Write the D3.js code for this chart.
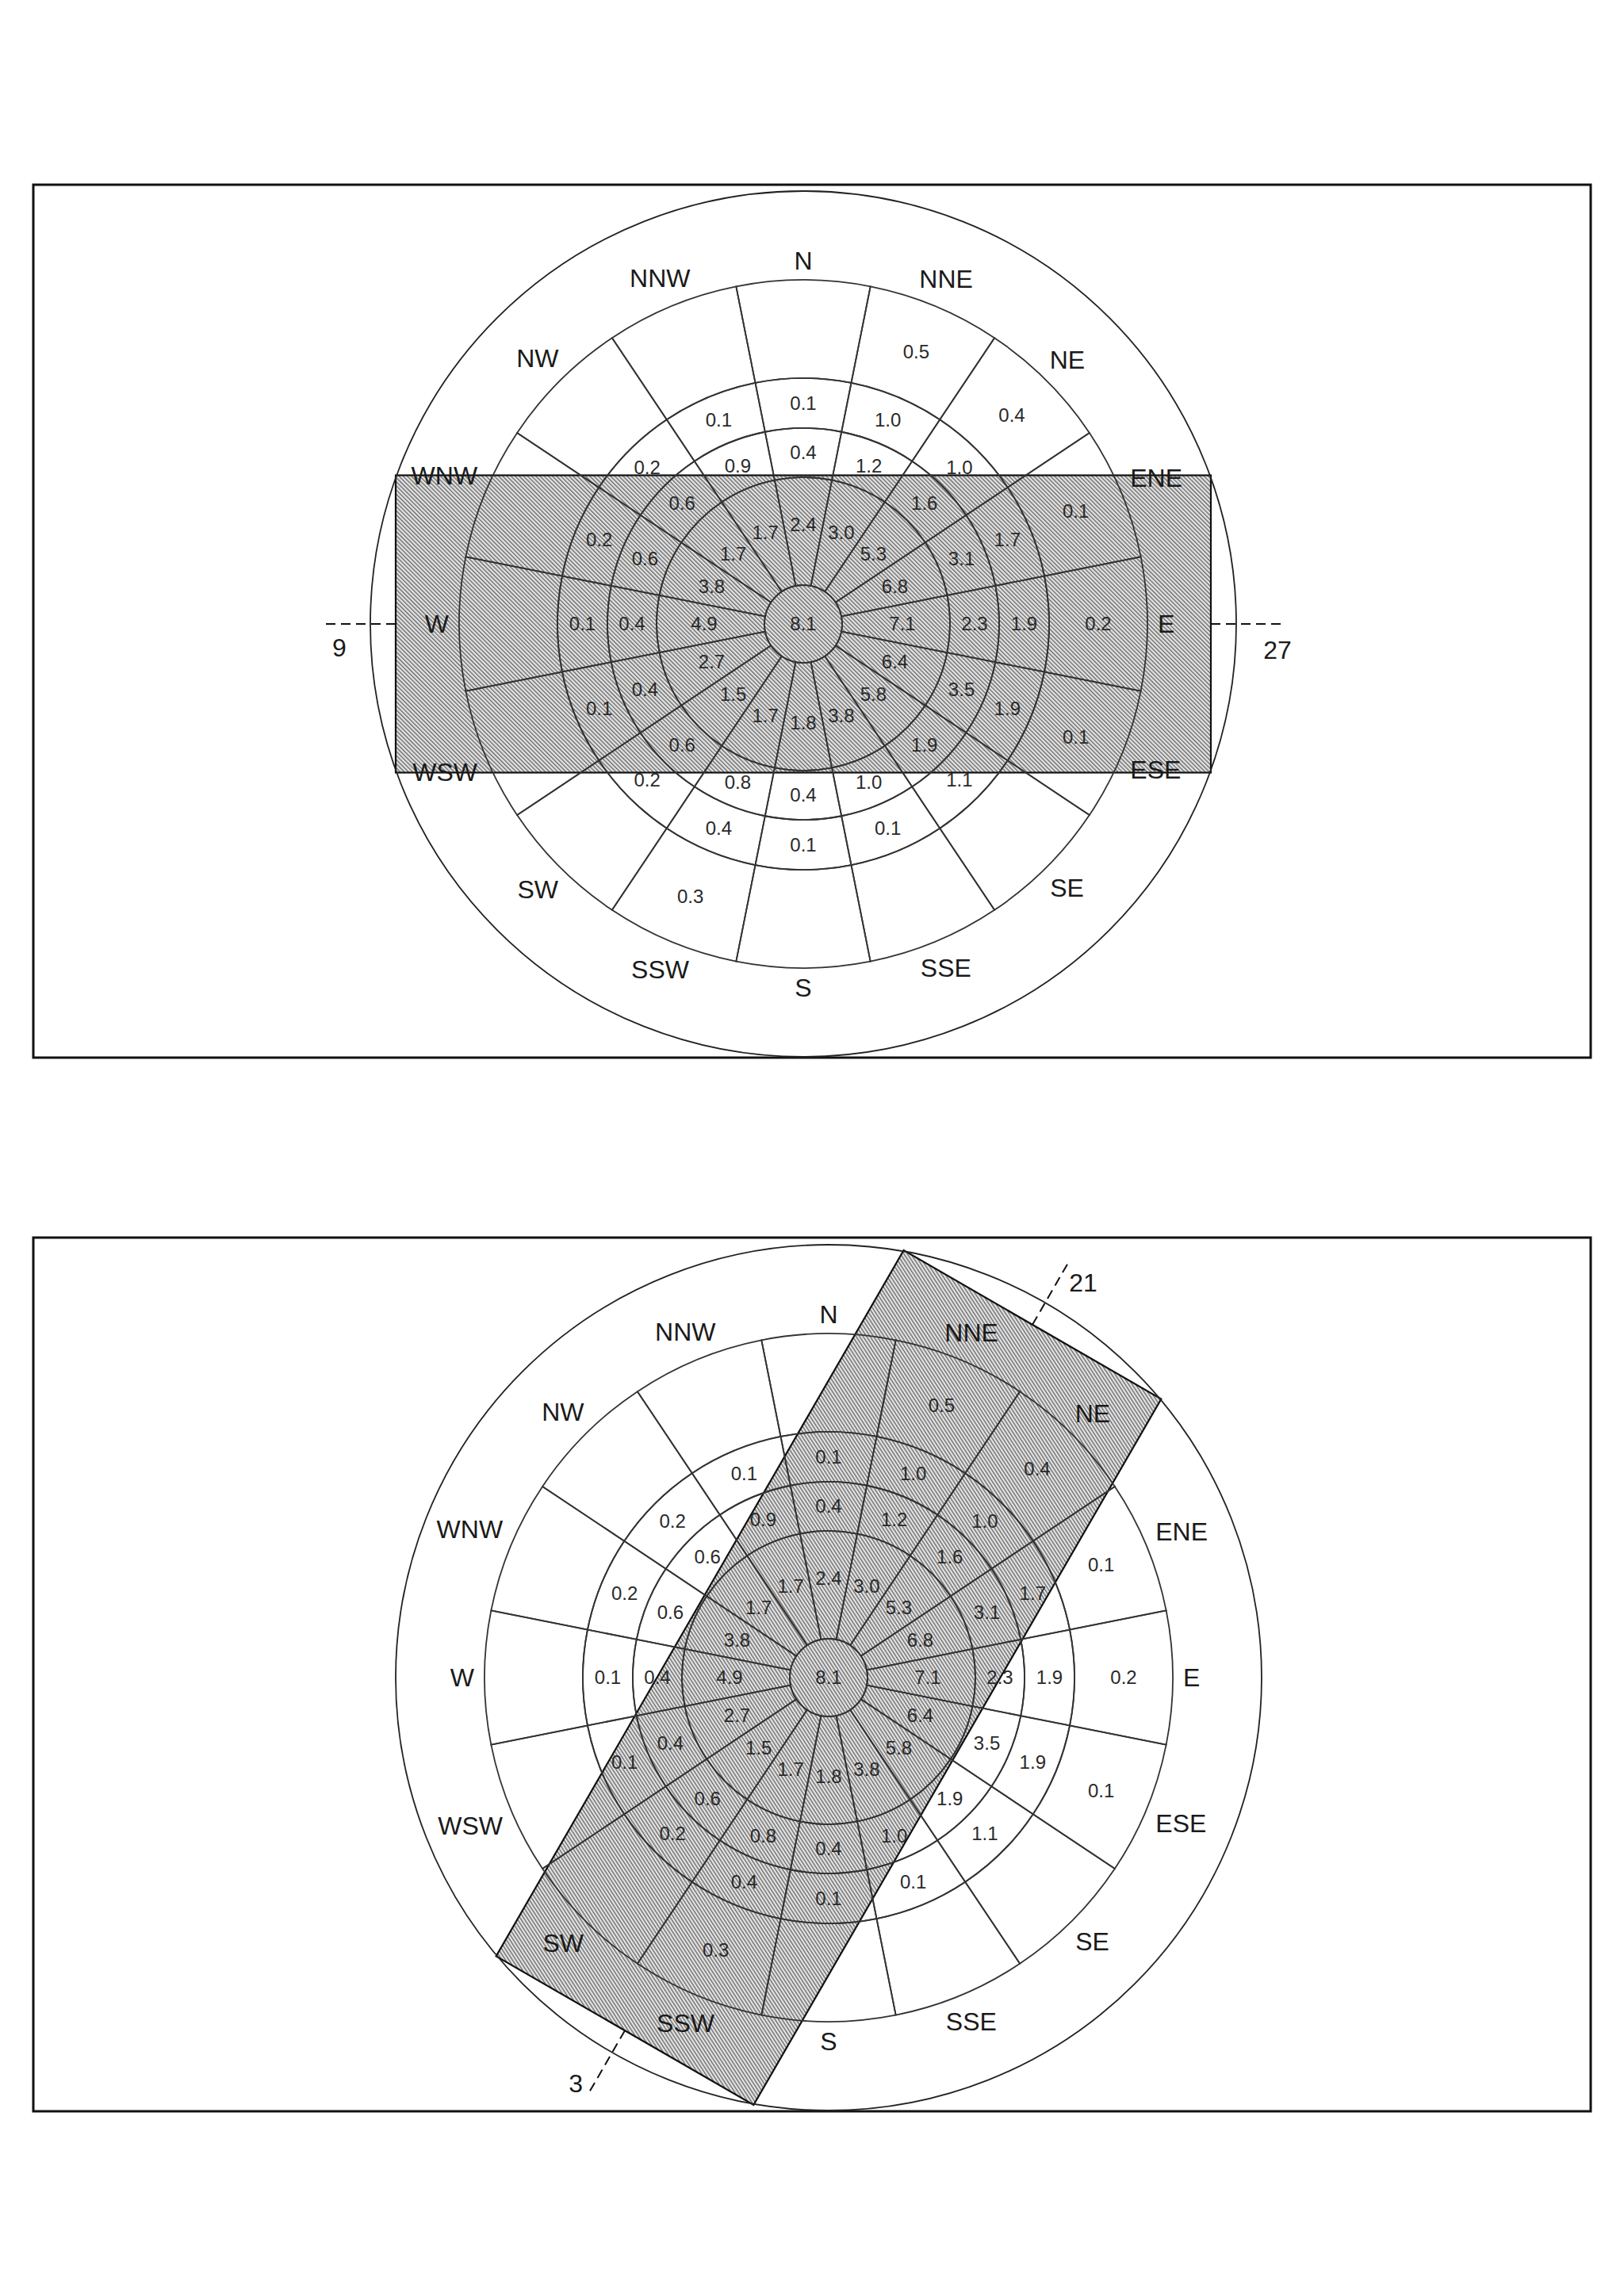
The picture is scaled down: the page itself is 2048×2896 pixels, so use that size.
<!DOCTYPE html>
<html>
<head>
<meta charset="utf-8">
<script src="https://cdn.jsdelivr.net/npm/d3@7"></script>
<style>
  body { margin: 0; background: #fff; }
  svg { display: block; }
  text { font-family: "Liberation Sans", Arial, sans-serif; }
</style>
</head>
<body>
<div id="plot"></div>
<script>
// wind rose data (percent of time, by direction and speed band)
var directions = ["N","NNE","NE","ENE","E","ESE","SE","SSE","S","SSW","SW","WSW","W","WNW","NW","NNW"];
var calm = 8.1;
var ring1 = [2.4, 3.0, 5.3, 6.8, 7.1, 6.4, 5.8, 3.8, 1.8, 1.7, 1.5, 2.7, 4.9, 3.8, 1.7, 1.7];
var ring2 = [0.4, 1.2, 1.6, 3.1, 2.3, 3.5, 1.9, 1.0, 0.4, 0.8, 0.6, 0.4, 0.4, 0.6, 0.6, 0.9];
var ring3 = [0.1, 1.0, 1.0, 1.7, 1.9, 1.9, 1.1, 0.1, 0.1, 0.4, 0.2, 0.1, 0.1, 0.2, 0.2, 0.1];
var ring4 = [null, 0.5, 0.4, 0.1, 0.2, 0.1, null, null, null, 0.3, null, null, null, null, null, null];
var rings = [ring1, ring2, ring3, ring4];

// runways overlaid on each rose
var runwayHeadings = [90, 30];
var runwayEnds = [["9", "27"], ["3", "21"]];

var W = 2048, H = 2896;
var panels = [
  { frame: [42, 233, 1964, 1101], cx: 1013, cy: 787, hatch: 45 },
  { frame: [42, 1561, 1964, 1102], cx: 1045, cy: 2116, hatch: 57 }
];
// label offsets (along axis inward, perpendicular) for each runway end
var endOffsets = [[[21, 30], [8, 33]], [[3, -20], [14, 29]]];

var halfL = 514, halfW = 187.5, dashExt = 92;

var angle = d3.scaleLinear().domain([0, directions.length]).range([0, 2 * Math.PI]);
var radius = d3.scaleLinear().domain([0, 1, 2, 3, 4]).range([49, 185, 247, 310, 434]);
var outerR = 546;
var labelR = 447;

var arc = d3.arc();

var svg = d3.select("#plot").append("svg")
  .attr("width", W).attr("height", H);
svg.append("rect").attr("width", W).attr("height", H).attr("fill", "#fff");

var defs = svg.append("defs");

function polar(r, a) { return [r * Math.sin(a), -r * Math.cos(a)]; }

panels.forEach(function(p, pi) {
  var heading = runwayHeadings[pi];
  var rot = heading - 90;

  // hatch pattern, lines at p.hatch degrees on screen
  var pat = defs.append("pattern")
    .attr("id", "hatch" + pi)
    .attr("patternUnits", "userSpaceOnUse")
    .attr("width", 3.7).attr("height", 10)
    .attr("patternTransform", "rotate(" + (p.hatch - rot - 90) + ")");
  pat.append("rect").attr("width", 3.7).attr("height", 10).attr("fill", "#e3e3e3");
  pat.append("rect").attr("width", 1.3).attr("height", 10).attr("fill", "#646464");

  var g = svg.append("g");

  // frame
  g.append("rect")
    .attr("x", p.frame[0]).attr("y", p.frame[1])
    .attr("width", p.frame[2]).attr("height", p.frame[3])
    .attr("fill", "none").attr("stroke", "#111").attr("stroke-width", 3);

  var rose = g.append("g").attr("transform", "translate(" + p.cx + "," + p.cy + ")");

  // runway hatch
  var rw = rose.append("g").attr("transform", "rotate(" + rot + ")");
  rw.append("rect")
    .attr("x", -halfL).attr("y", -halfW)
    .attr("width", 2 * halfL).attr("height", 2 * halfW)
    .attr("fill", "url(#hatch" + pi + ")");

  // outer circle
  rose.append("circle").attr("r", outerR)
    .attr("fill", "none").attr("stroke", "#222").attr("stroke-width", 1.8);

  // cells
  directions.forEach(function(d, i) {
    rings.forEach(function(ring, k) {
      rose.append("path")
        .attr("d", arc({
          innerRadius: radius(k), outerRadius: radius(k + 1),
          startAngle: angle(i - 0.5), endAngle: angle(i + 0.5)
        }))
        .attr("fill", "none").attr("stroke", "#333").attr("stroke-width", 1.8);
    });
  });
  rose.append("circle").attr("r", radius(0))
    .attr("fill", "none").attr("stroke", "#333").attr("stroke-width", 1.8);

  // cell values
  rings.forEach(function(ring, k) {
    var r = (radius(k) + radius(k + 1)) / 2 + (k === 0 ? 8 : 0);
    ring.forEach(function(v, i) {
      if (v === null) return;
      var xy = polar(r, angle(i));
      rose.append("text")
        .attr("x", xy[0]).attr("y", xy[1]).attr("dy", "0.35em")
        .attr("text-anchor", "middle")
        .attr("font-size", 24).attr("fill", "#2a2a2a")
        .text(v.toFixed(1));
    });
  });
  rose.append("text").attr("x", 0).attr("y", 0).attr("dy", "0.35em")
    .attr("text-anchor", "middle").attr("font-size", 24).attr("fill", "#2a2a2a")
    .text(calm.toFixed(1));

  // direction labels
  directions.forEach(function(d, i) {
    var t = rose.append("text")
      .attr("text-anchor", "middle").attr("dy", "0.35em")
      .attr("font-size", 32).attr("fill", "#1a1a1a")
      .text(d);
    var w = t.node().getComputedTextLength();
    var a = angle(i);
    var r = labelR + (w / 2) * Math.abs(Math.sin(a)) + 11.5 * Math.abs(Math.cos(a));
    var xy = polar(r, a);
    t.attr("x", xy[0]).attr("y", xy[1]);
  });

  // runway outline and centreline extensions
  rw.append("rect")
    .attr("x", -halfL).attr("y", -halfW)
    .attr("width", 2 * halfL).attr("height", 2 * halfW)
    .attr("fill", "none").attr("stroke", "#111").attr("stroke-width", 2.2);
  [-1, 1].forEach(function(s) {
    rw.append("line")
      .attr("x1", s * halfL).attr("x2", s * (halfL + dashExt))
      .attr("y1", 0).attr("y2", 0)
      .attr("stroke", "#111").attr("stroke-width", 2)
      .attr("stroke-dasharray", "12,7");
  });

  // runway end numbers (unrotated text)
  var rad = rot * Math.PI / 180;
  var u = [Math.cos(rad), Math.sin(rad)];
  var q = [-Math.sin(rad), Math.cos(rad)];
  runwayEnds[pi].forEach(function(lbl, e) {
    var s = e === 0 ? -1 : 1;
    var off = endOffsets[pi][e];
    var along = s * (halfL + dashExt - off[0]);
    var x = along * u[0] + off[1] * q[0];
    var y = along * u[1] + off[1] * q[1];
    rose.append("text")
      .attr("x", x).attr("y", y).attr("dy", "0.35em")
      .attr("text-anchor", "middle")
      .attr("font-size", 32).attr("fill", "#1a1a1a")
      .text(lbl);
  });
});
</script>
</body>
</html>
